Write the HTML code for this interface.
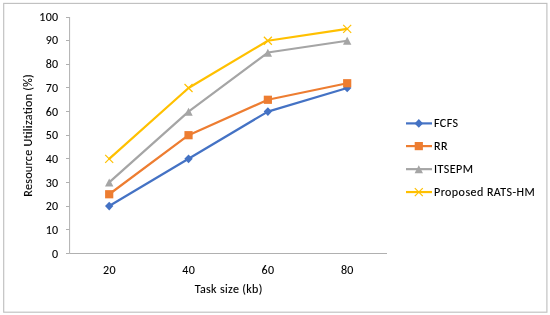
<!DOCTYPE html>
<html>
<head>
<meta charset="utf-8">
<style>
html,body{margin:0;padding:0;background:#fff;}
body{width:550px;height:315px;overflow:hidden;}
svg{display:block;}
text{font-family:Carlito,"Liberation Sans",sans-serif;fill:#000;letter-spacing:0.35px;stroke:#000;stroke-width:0.1px;font-size:12px;}
text.lg{letter-spacing:0.45px;}
text.yt{letter-spacing:0.3px;}
.nc text,.nc text.lg,.nc text.yt{font-family:"Liberation Sans",sans-serif;font-size:11px;letter-spacing:0;}
</style>
</head>
<body>
<svg width="550" height="315" viewBox="0 0 550 315">
<rect x="0" y="0" width="550" height="315" fill="#fff"/>
<rect x="3.7" y="3.4" width="543.2" height="308.8" fill="#fff" stroke="#c0c0c0" stroke-width="1.15"/>
<g stroke="#b0b0b0" stroke-width="1" fill="none">
<path d="M69.6 17V253.5H387"/>
<path d="M66 253.50H69.6M66 229.50H69.6M66 206.50H69.6M66 182.50H69.6M66 158.50H69.6M66 135.50H69.6M66 111.50H69.6M66 87.50H69.6M66 64.50H69.6M66 40.50H69.6M66 17.50H69.6"/>
</g>
<g text-anchor="end">
<text x="58.5" y="20.70">100</text>
<text x="58.5" y="44.40">90</text>
<text x="58.5" y="68.10">80</text>
<text x="58.5" y="91.80">70</text>
<text x="58.5" y="115.50">60</text>
<text x="58.5" y="139.20">50</text>
<text x="58.5" y="162.90">40</text>
<text x="58.5" y="186.60">30</text>
<text x="58.5" y="210.30">20</text>
<text x="58.5" y="234.00">10</text>
<text x="58.5" y="257.70">0</text>
</g>
<g text-anchor="middle">
<text x="109.40" y="273.5">20</text>
<text x="188.73" y="273.5">40</text>
<text x="268.06" y="273.5">60</text>
<text x="347.39" y="273.5">80</text>
</g>
<text x="228.7" y="293" text-anchor="middle">Task size (kb)</text>
<text x="0" y="0" text-anchor="middle" class="yt" transform="translate(32.3 135.3) rotate(-90)">Resource Utilization (%)</text>
<g fill="none" stroke-width="2.2" stroke-linejoin="round" stroke-linecap="round">
<polyline stroke="#4472c4" points="109.20,206.06 188.53,158.82 267.86,111.58 347.19,87.96"/>
<polyline stroke="#ed7d31" points="109.20,194.25 188.53,135.20 267.86,99.77 347.19,83.24"/>
<polyline stroke="#a5a5a5" points="109.20,182.44 188.53,111.58 267.86,52.53 347.19,40.72"/>
<polyline stroke="#ffc000" points="109.20,158.82 188.53,87.96 267.86,40.72 347.19,28.91"/>
</g>
<path fill="#4472c4" d="M109.20 201.66l4.2 4.4-4.2 4.4-4.2-4.4z"/>
<path fill="#4472c4" d="M188.53 154.42l4.2 4.4-4.2 4.4-4.2-4.4z"/>
<path fill="#4472c4" d="M267.86 107.18l4.2 4.4-4.2 4.4-4.2-4.4z"/>
<path fill="#4472c4" d="M347.19 83.56l4.2 4.4-4.2 4.4-4.2-4.4z"/>
<rect fill="#ed7d31" x="105.10" y="190.15" width="8.2" height="8.2"/>
<rect fill="#ed7d31" x="184.43" y="131.10" width="8.2" height="8.2"/>
<rect fill="#ed7d31" x="263.76" y="95.67" width="8.2" height="8.2"/>
<rect fill="#ed7d31" x="343.09" y="79.14" width="8.2" height="8.2"/>
<path fill="#a5a5a5" d="M109.20 178.54l4.2 8h-8.4z"/>
<path fill="#a5a5a5" d="M188.53 107.68l4.2 8h-8.4z"/>
<path fill="#a5a5a5" d="M267.86 48.63l4.2 8h-8.4z"/>
<path fill="#a5a5a5" d="M347.19 36.82l4.2 8h-8.4z"/>
<path stroke="#ffc000" stroke-width="1.2" fill="none" d="M105.20 154.82l8 8M113.20 154.82l-8 8"/>
<path stroke="#ffc000" stroke-width="1.2" fill="none" d="M184.53 83.96l8 8M192.53 83.96l-8 8"/>
<path stroke="#ffc000" stroke-width="1.2" fill="none" d="M263.86 36.72l8 8M271.86 36.72l-8 8"/>
<path stroke="#ffc000" stroke-width="1.2" fill="none" d="M343.19 24.91l8 8M351.19 24.91l-8 8"/>
<g stroke-width="2.2" fill="none">
<path stroke="#4472c4" d="M406 123.4H432"/>
<path stroke="#ed7d31" d="M406 146.1H432"/>
<path stroke="#a5a5a5" d="M406 169.15H432"/>
<path stroke="#ffc000" d="M406 192.05H432"/>
</g>
<path fill="#4472c4" d="M418.80 119.00l4.2 4.4-4.2 4.4-4.2-4.4z"/>
<rect fill="#ed7d31" x="414.70" y="142.00" width="8.2" height="8.2"/>
<path fill="#a5a5a5" d="M418.80 165.25l4.2 8h-8.4z"/>
<path stroke="#ffc000" stroke-width="1.2" fill="none" d="M414.80 188.05l8 8M422.80 188.05l-8 8"/>
<text x="434" y="126.6" class="lg">FCFS</text>
<text x="434" y="149.7" class="lg">RR</text>
<text x="434" y="172.7" class="lg">ITSEPM</text>
<text x="434" y="195.6" class="lg">Proposed RATS-HM</text>
</svg>
<script>(function(){try{var c=document.createElement("canvas").getContext("2d");var s="Proposed RATS-HM 100";c.font="40px monospace";var a=c.measureText(s).width;c.font="40px Carlito, monospace";var b=c.measureText(s).width;if(Math.abs(a-b)<0.01)document.documentElement.className="nc";}catch(e){}})();</script>
</body>
</html>
